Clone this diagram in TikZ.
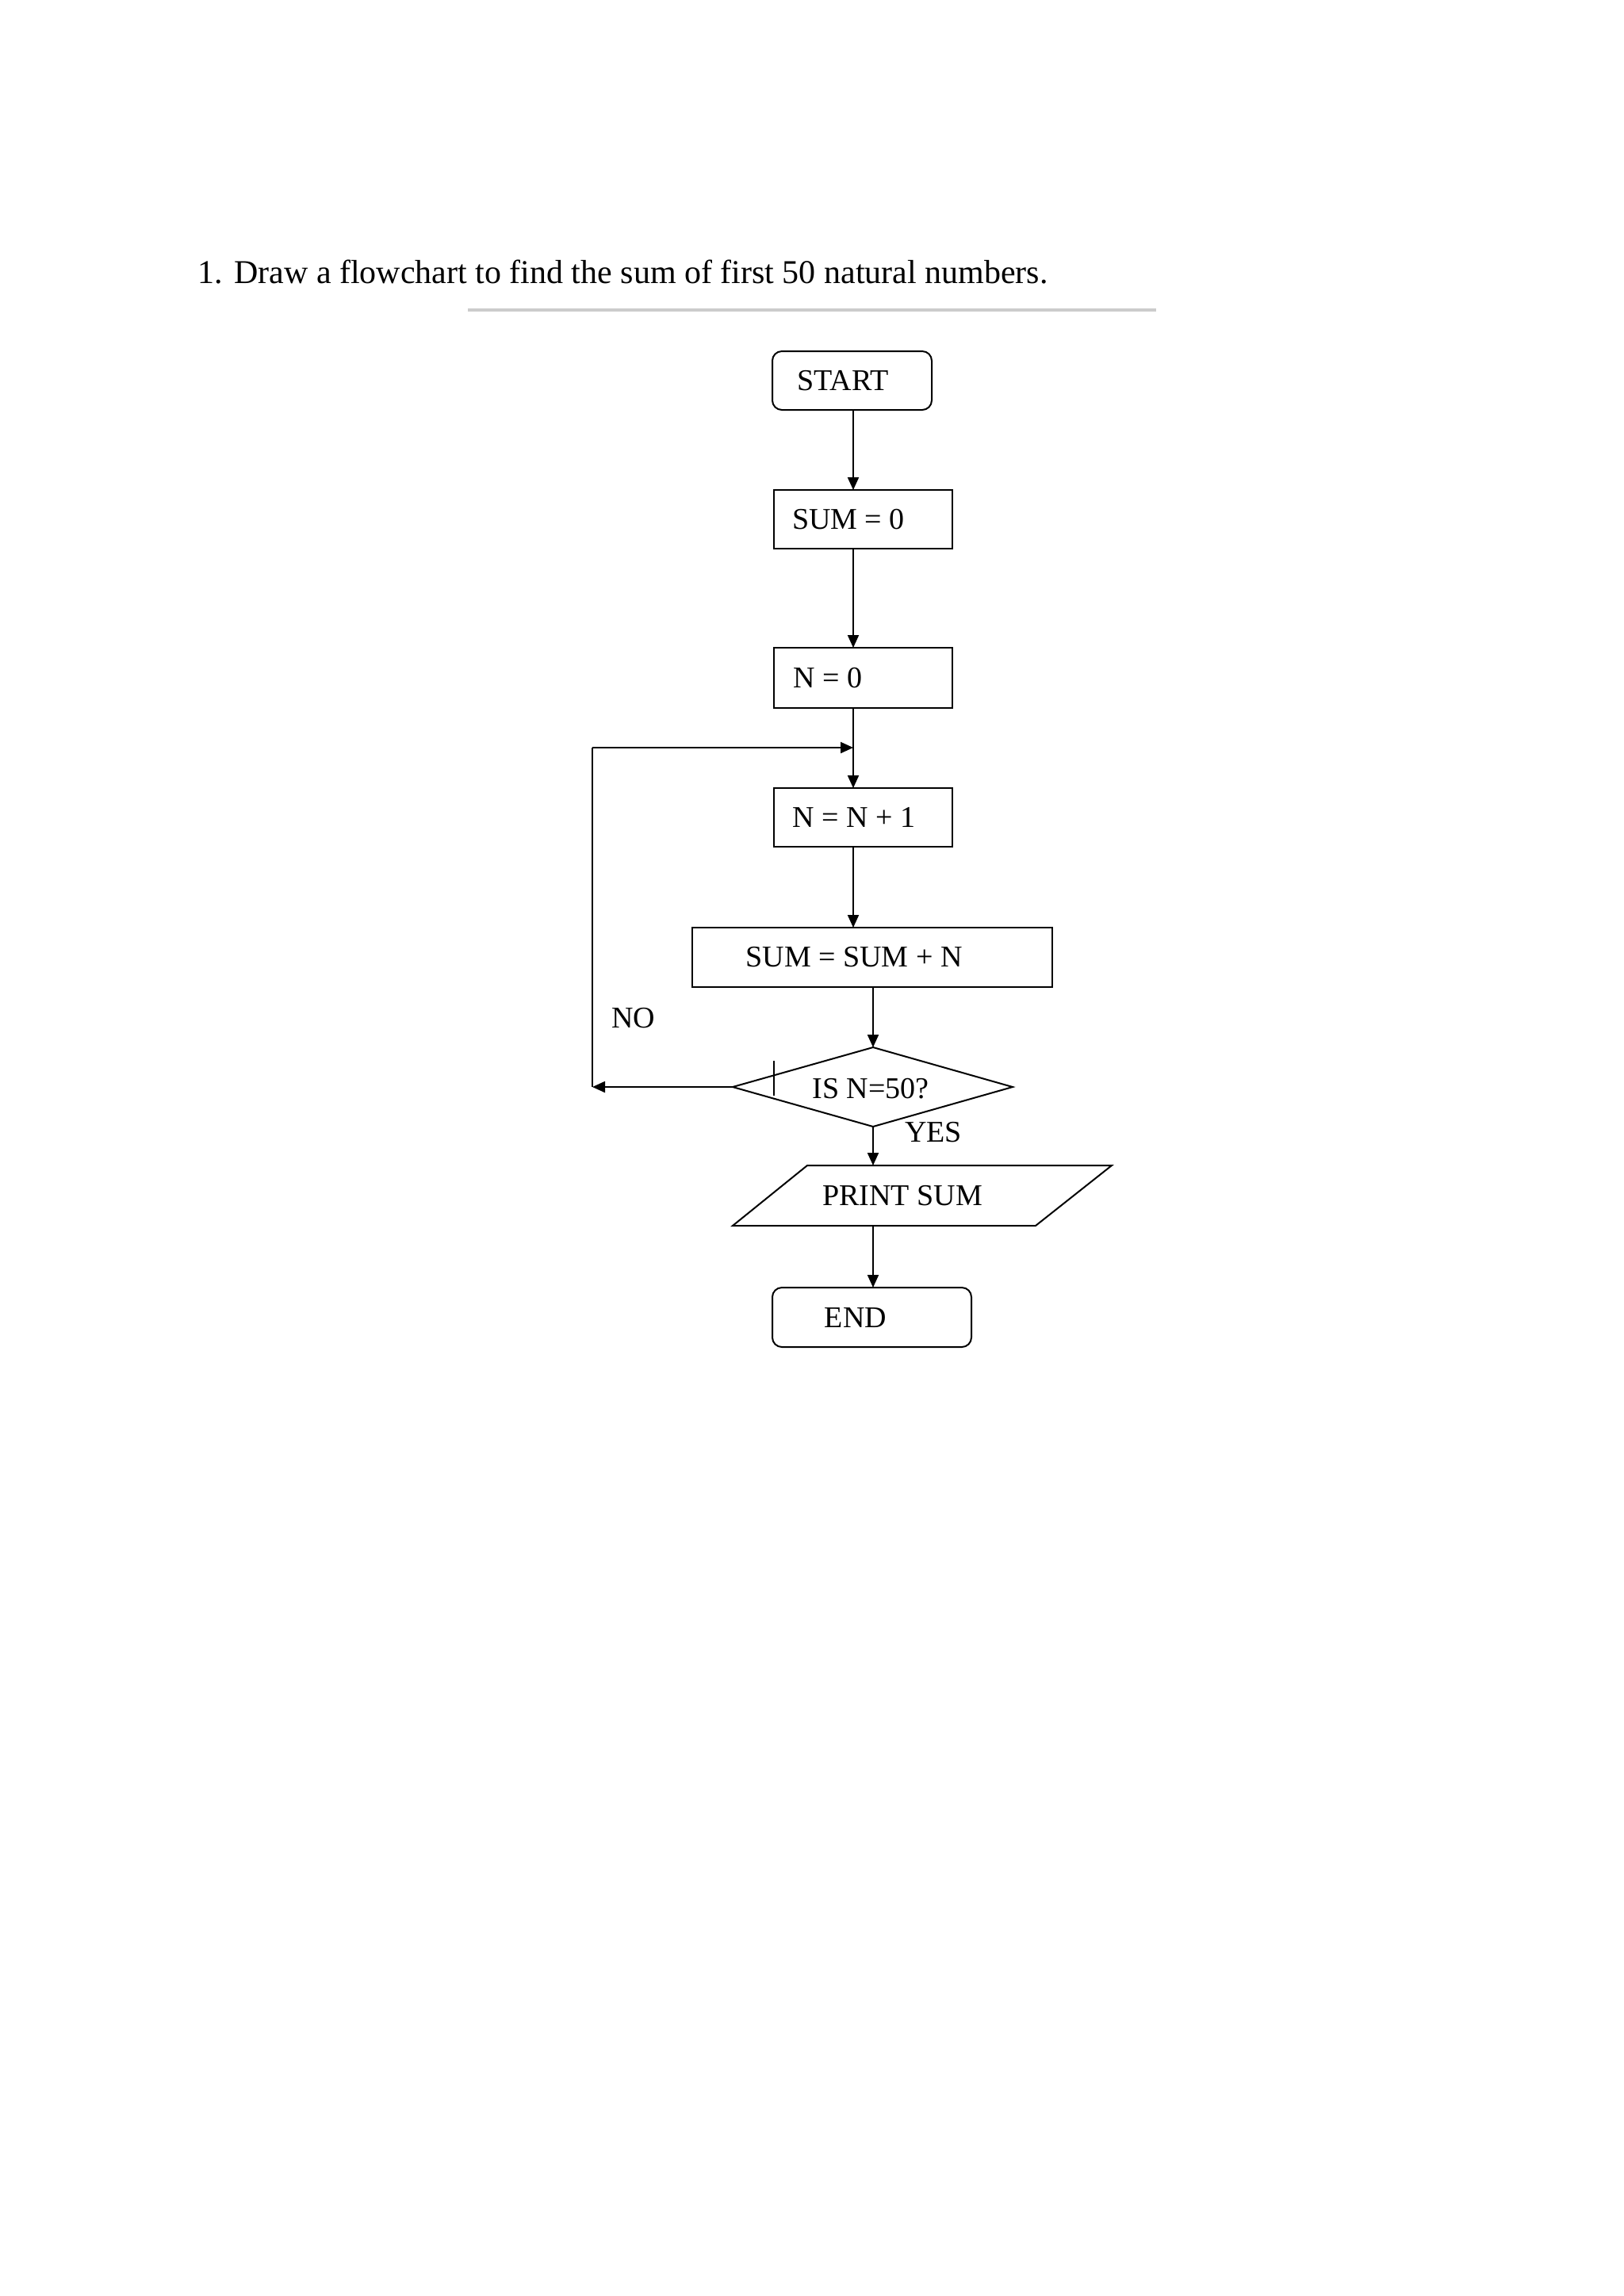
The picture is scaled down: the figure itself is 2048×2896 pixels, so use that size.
\documentclass[tikz,border=0pt]{standalone}
\usepackage{fontspec}
\setmainfont{Liberation Serif}
\usetikzlibrary{arrows.meta}
\begin{document}
\begin{tikzpicture}[x=0.25pt,y=-0.25pt,
  lbl/.style={inner sep=0pt,font=\fontsize{9.5}{11}\selectfont},
  arr/.style={-{Triangle[length=4pt,width=3.5pt]},line width=0.5pt},
  box/.style={draw,line width=0.5pt}]
\useasboundingbox (0,0) rectangle (2048,2896);
\node[inner sep=0pt,anchor=west,font=\fontsize{10.5}{12}\selectfont] (title) at (249,343) {1. Draw a flowchart to find the sum of first 50 natural numbers.};
\draw[gray!40,line width=1.2pt] (590,391) -- (1458,391);
\draw[box,rounded corners=3pt] (974,443) rectangle (1175,517);
\node[lbl] (start) at (1063,480) {START};
\draw[box] (976,618) rectangle (1201,692);
\node[lbl] (sum0) at (1070,655) {SUM = 0};
\draw[box] (976,817) rectangle (1201,893);
\node[lbl] (n0) at (1044,855) {N = 0};
\draw[box] (976,994) rectangle (1201,1068);
\node[lbl] (n1) at (1077,1031) {N = N + 1};
\draw[box] (873,1170) rectangle (1327,1245);
\node[lbl] (sumn) at (1077,1207) {SUM = SUM + N};
\draw[box] (924,1371) -- (1101,1321) -- (1277,1371) -- (1101,1421) -- cycle;
\node[lbl] (dec) at (1098,1373) {IS N=50?};
\draw[box] (1018,1470) -- (1402,1470) -- (1306,1546) -- (924,1546) -- cycle;
\node[lbl] (print) at (1138,1508) {PRINT SUM};
\draw[box,rounded corners=3pt] (974,1624) rectangle (1225,1699);
\node[lbl] (end) at (1079,1662) {END};
\node[lbl] (no) at (799,1284) {NO};
\node[lbl] (yes) at (1177,1428) {YES};
\coordinate (a1) at (1076,517); \coordinate (a2) at (1076,618);
\coordinate (b1) at (1076,692); \coordinate (b2) at (1076,817);
\coordinate (c1) at (1076,893); \coordinate (c2) at (1076,994);
\coordinate (d1) at (1076,1068); \coordinate (d2) at (1076,1170);
\coordinate (e1) at (1101,1245); \coordinate (e2) at (1101,1321);
\coordinate (f1) at (1101,1421); \coordinate (f2) at (1101,1470);
\coordinate (g1) at (1101,1546); \coordinate (g2) at (1101,1624);
\coordinate (l0) at (924,1371); \coordinate (l1) at (747,1371);
\coordinate (l2) at (747,943); \coordinate (l3) at (1076,943);
\draw[arr] (a1) -- (a2);
\draw[arr] (b1) -- (b2);
\draw[arr] (c1) -- (c2);
\draw[arr] (d1) -- (d2);
\draw[arr] (e1) -- (e2);
\draw[arr] (f1) -- (f2);
\draw[arr] (g1) -- (g2);
\draw[arr] (l0) -- (l1);
\draw[line width=0.5pt] (l1) -- (l2);
\draw[arr] (l2) -- (l3);
\draw[line width=0.7pt] (976,1338) -- (976,1382);
\end{tikzpicture}
\end{document}
